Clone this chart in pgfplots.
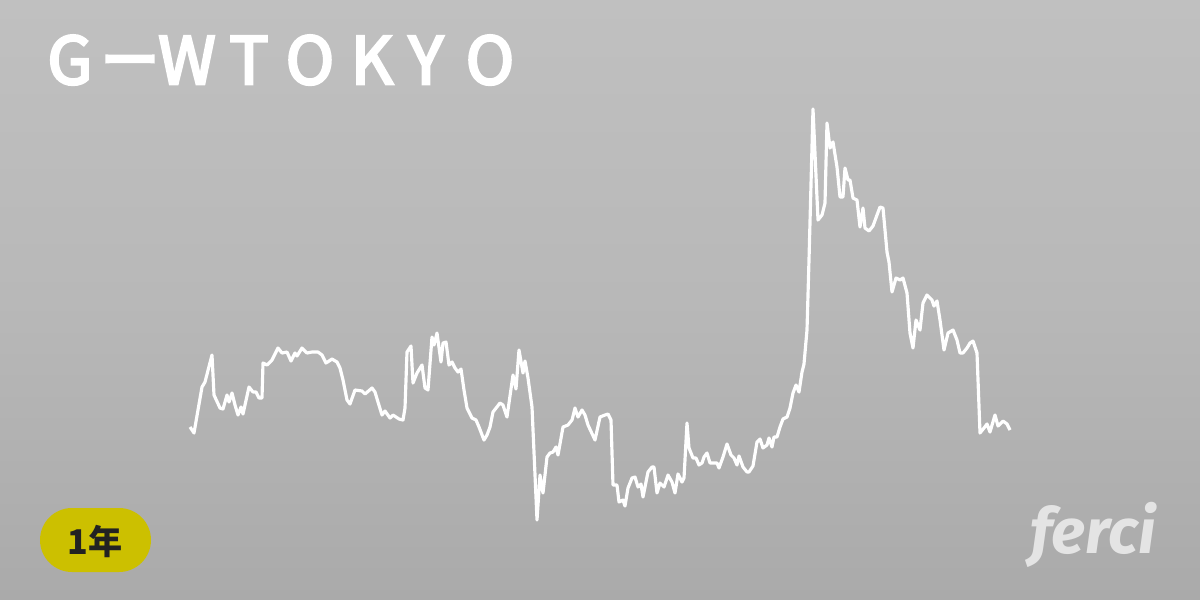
\documentclass[border=0pt]{standalone}
\usepackage{pgfplots}
\pgfplotsset{compat=1.18}
\usepackage{fontspec}
\setmainfont{Noto Sans CJK JP}
\newfontfamily\titlefont{Noto Sans CJK JP}[FakeBold=4]
\newfontfamily\logofont{Fira Sans}
\definecolor{bgtop}{HTML}{C0C0C0}
\definecolor{bgmid}{HTML}{B8B8B8}
\definecolor{bgbot}{HTML}{AAAAAA}
\definecolor{badge}{HTML}{CCC000}
\definecolor{badgetext}{HTML}{222222}
\definecolor{logo}{HTML}{E4E4E4}

% one letter of the title, centred on x (pixels), on the baseline
\newcommand\titleletter[2]{%
  \node[anchor=base, text=white, inner sep=0pt,
        font=\titlefont\fontsize{18.6pt}{18.6pt}\selectfont]
    at (axis cs:#1,84) {#2};}

\begin{document}
\begin{tikzpicture}
  \shade[top color=bgtop, bottom color=bgbot, middle color=bgmid]
    (0,0) rectangle (12cm,6cm);
  \begin{axis}[
      at={(0,0)}, anchor=south west,
      width=12cm, height=6cm, scale only axis,
      xmin=0, xmax=1200, ymin=0, ymax=600,
      y dir=reverse,
      hide axis]
    \addplot[white, line width=0.9pt, line join=round] coordinates {
      (190,427)(194,433)(202,387)(205,382)(212,355)(214,395)(220,408)(223,409)
      (227,395)(229,402)(232,393)(235,405)(238,415)(241,407)(243,414)(249,387)
      (253,392)(256,392)(259,398)(262,398)(263,363)(267,365)(272,360)(278,348)
      (282,353)(287,352)(291,361)(295,353)(297,356)(302,348)(307,353)(312,352)
      (318,352)(322,355)(326,363)(332,359)(337,362)(340,368)(343,380)(347,400)
      (350,404)(355,390)(362,391)(365,394)(372,388)(375,392)(378,402)(382,415)
      (385,411)(390,418)(393,415)(399,419)(403,420)(405,408)(407,352)(411,346)
      (413,383)(417,373)(422,365)(425,388)(428,390)(432,337)(434,345)(437,333)
      (441,362)(443,343)(446,342)(449,365)(452,362)(455,368)(458,372)(461,369)
      (464,390)(467,408)(472,418)(476,420)(479,427)(484,440)(487,435)(490,427)
      (493,412)(500,403)(503,405)(507,417)(513,375)(516,389)(519,350)(523,373)
      (525,361)(528,378)(532,407)(537,520)(540,475)(543,493)(547,457)(550,453)
      (553,452)(556,447)(558,455)(563,427)(568,425)(572,420)(575,408)(578,417)
      (582,410)(585,415)(588,425)(595,440)(600,417)(605,415)(608,414)(611,420)
      (613,485)(617,485)(619,502)(623,500)(625,506)(628,488)(632,478)(635,477)
      (638,487)(641,484)(643,497)(648,472)(652,467)(654,467)(657,493)(660,483)
      (664,487)(668,475)(672,482)(675,493)(678,474)(682,482)(684,478)(687,423)
      (689,448)(693,458)(696,458)(699,465)(702,463)(704,457)(707,453)(710,463)
      (713,463)(717,463)(719,468)(723,457)(727,444)(731,455)(734,458)(737,465)
      (739,456)(743,467)(747,472)(749,472)(753,466)(757,442)(760,439)(763,448)
      (767,445)(769,438)(772,447)(774,437)(777,437)(780,427)(783,419)(787,417)
      (790,408)(793,393)(796,385)(799,392)(802,372)(804,364)(807,330)(809,260)
      (813,109)(818,220)(822,215)(825,203)(827,123)(830,148)(833,142)(837,167)
      (840,197)(843,197)(845,168)(848,180)(850,180)(853,198)(857,200)(860,227)
      (863,208)(865,228)(869,231)(873,226)(877,215)(880,207)(883,208)(887,252)
      (889,262)(892,292)(896,278)(900,280)(903,278)(907,293)(910,333)(913,348)
      (916,320)(920,330)(923,303)(927,295)(932,300)(934,306)(937,301)(940,320)
      (944,350)(948,333)(953,330)(957,340)(960,353)(963,353)(967,348)(970,343)
      (973,341)(977,353)(980,433)(984,428)(987,424)(990,432)(995,415)(998,426)
      (1003,421)(1007,424)(1010,430)
    };
    % title
    \titleletter{70}{G}
    \titleletter{130}{\scalebox{0.9}[1]{ー}}
    \titleletter{187}{W}
    \titleletter{249}{T}
    \titleletter{310}{O}
    \titleletter{372}{K}
    \titleletter{426}{Y}
    \titleletter{490}{O}
    % period badge
    \fill[badge, rounded corners=3.2mm] (axis cs:40,508) rectangle (axis cs:151,572);
    \node[text=badgetext, font=\fontsize{9.7pt}{9.7pt}\selectfont\bfseries]
      at (axis cs:95,541) {1年};
    % logo
    \node[anchor=base, text=logo,
          font=\logofont\fontsize{18pt}{18pt}\selectfont\bfseries\itshape]
      at (axis cs:1093,553) {ferci};
  \end{axis}
\end{tikzpicture}
\end{document}
